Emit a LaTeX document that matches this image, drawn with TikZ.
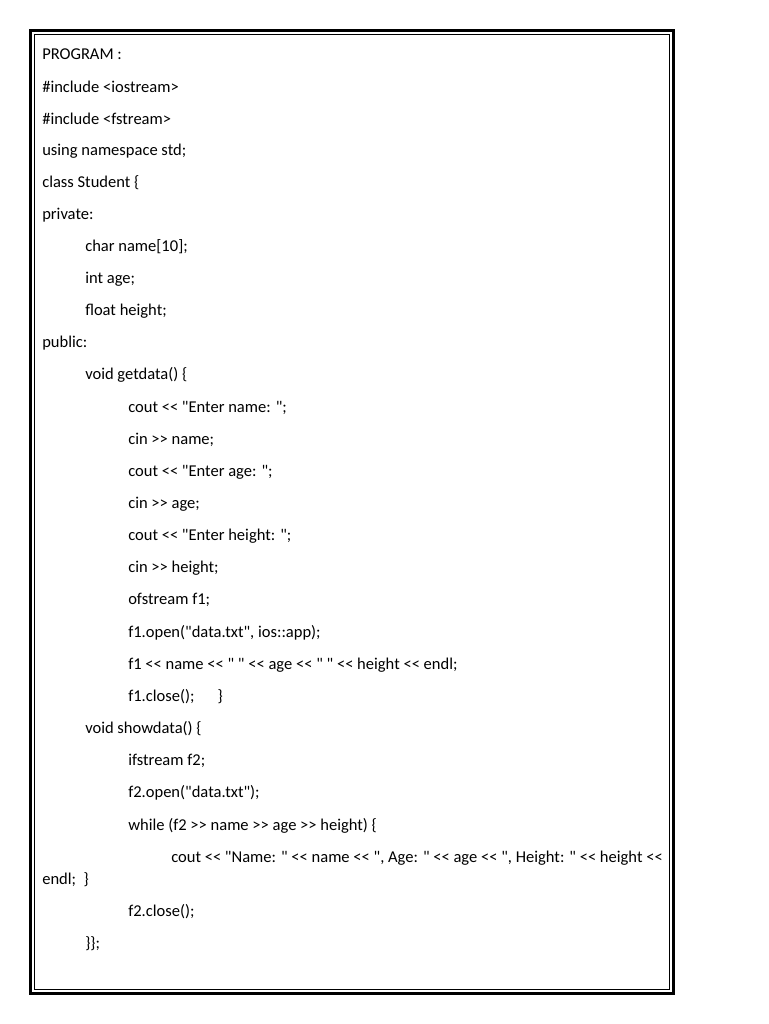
\documentclass[tikz,border=0pt]{standalone}
\usepackage{fontspec}
\setmainfont{Carlito}[Ligatures=TeXReset]
\begin{document}
\begin{tikzpicture}[x=0.75pt,y=-0.75pt,
  code/.style={anchor=west,inner sep=0pt,font=\fontsize{12.4}{14}\selectfont}]
\useasboundingbox (0,0) rectangle (768,1024);
\fill[white] (0,0) rectangle (768,1024);
\draw[line width=2.3pt] (30.5,30.5) rectangle (673.5,993.5);
\draw[line width=0.6pt] (34.5,34.5) rectangle (669.5,989.5);
\node[code] (l1) at (42,54) {PROGRAM :};
\node[code] (l2) at (42,87) {\#include <iostream>};
\node[code] (l3) at (42,119) {\#include <fstream>};
\node[code] (l4) at (42,151) {using namespace std;};
\node[code] (l5) at (42,183) {class Student \{};
\node[code] (l6) at (42,215) {private:};
\node[code] (l7) at (85,247) {char name[10];};
\node[code] (l8) at (85,279) {int age;};
\node[code] (l9) at (85,311) {float height;};
\node[code] (l10) at (42,343) {public:};
\node[code] (l11) at (85,375) {void getdata() \{};
\node[code] (l12) at (128,408) {cout << "Enter name: ";};
\node[code] (l13) at (128,440) {cin >> name;};
\node[code] (l14) at (128,472) {cout << "Enter age: ";};
\node[code] (l15) at (128,504) {cin >> age;};
\node[code] (l16) at (128,536) {cout << "Enter height: ";};
\node[code] (l17) at (128,568) {cin >> height;};
\node[code] (l18) at (128,600) {ofstream f1;};
\node[code] (l19) at (128,633) {f1.open("data.txt", ios::app);};
\node[code] (l20) at (128,665) {f1 << name << " " << age << " " << height << endl;};
\node[code] (l21) at (128,697) {f1.close();\hspace{1.4em}\}};
\node[code] (l22) at (85,729) {void showdata() \{};
\node[code] (l23) at (128,761) {ifstream f2;};
\node[code] (l24) at (128,793) {f2.open("data.txt");};
\node[code] (l25) at (128,826) {while (f2 >> name >> age >> height) \{};
\node[code] (l26) at (171,858) {cout << "Name: " << name << ", Age: " << age << ", Height: " << height <<};
\node[code] (l27) at (42,880) {endl;\ \ \}};
\node[code] (l28) at (128,912) {f2.close();};
\node[code] (l29) at (85,944) {\}\};};
\end{tikzpicture}
\end{document}
